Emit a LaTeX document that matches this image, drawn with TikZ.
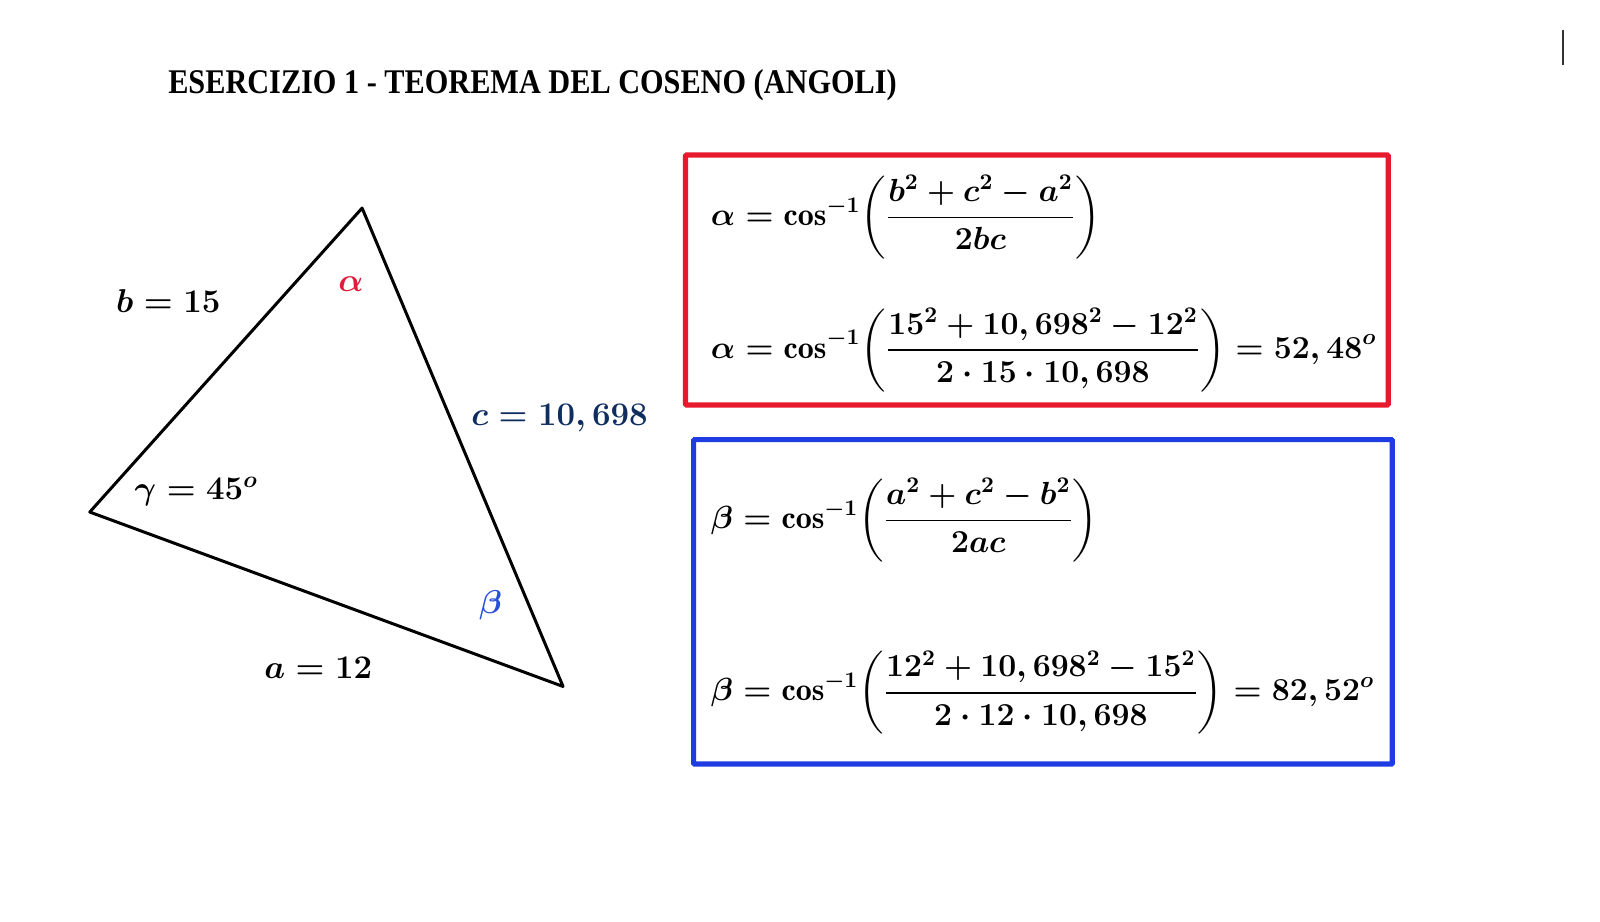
\RequirePackage{fix-cm}
\documentclass[tikz,border=0pt]{standalone}
\usepackage{amsmath}
\usepackage{fontspec}
\usepackage{tikz}
\usetikzlibrary{positioning}

\newfontfamily\titlefont{Liberation Serif}

\definecolor{boxred}{RGB}{230,25,45}
\definecolor{boxblue}{RGB}{30,60,225}
\definecolor{alphared}{RGB}{220,30,60}
\definecolor{betablue}{RGB}{40,80,220}
\definecolor{navy}{RGB}{15,45,95}

\tikzset{
  lbl/.style={font=\fontsize{16.5}{20}\selectfont\boldmath},
  formula/.style={anchor=west,font=\fontsize{16}{20}\selectfont\boldmath},
  frame/.style={line width=2.6pt,rounded corners=0.5pt}
}

\begin{document}
\begin{tikzpicture}[x=0.51pt,y=-0.51pt,inner sep=0,outer sep=0]

   \useasboundingbox (0,0) rectangle (1568.6,903);

   % Title
   \node[anchor=base west,font=\fontsize{17.3}{20}\titlefont\bfseries] (title) at (165,92)
      {\scalebox{0.875}[1]{ESERCIZIO 1 - TEOREMA DEL COSENO (ANGOLI)}};

   % Cursor mark
   \draw[black!80,line width=1pt] (1532,29) -- (1532,64);

   % The triangle
   \coordinate (A) at (355,204);
   \coordinate (C) at (88,502);
   \coordinate (B) at (552,673);
   \draw[line width=1.5pt,line join=round] (C) -- (A) -- (B) -- cycle;

   % Sides and angles
   \node[lbl] (sideb) at (165,295) {$b=15$};
   \node[lbl,text=alphared] (angA) at (344,279) {$\alpha$};
   \node[lbl,text=navy,anchor=west] (sidec) at (462,410) {$c=10,698$};
   \node[lbl,anchor=west] (angC) at (132,482) {$\gamma=45^{o}$};
   \node[lbl,text=betablue] (angB) at (481,593) {$\beta$};
   \node[lbl] (sidea) at (312,655) {$a=12$};

   % Boxes
   \draw[frame,boxred] (672,152) rectangle (1361,397);
   \draw[frame,boxblue] (680,431) rectangle (1365,749);

   % Formulas for alpha
   \node[formula] (alf) at (697,213)
      {$\displaystyle\alpha=\cos^{-1}\!\left(\frac{b^2+c^2-a^2}{2bc}\right)$};
   \node[formula] (alv) at (697,343)
      {$\displaystyle\alpha=\cos^{-1}\!\left(\frac{15^2+10,698^2-12^2}{2\cdot15\cdot10,698}\right)=52,48^{o}$};

   % Formulas for beta
   \node[formula] (bef) at (697,510)
      {$\displaystyle\beta=\cos^{-1}\!\left(\frac{a^2+c^2-b^2}{2ac}\right)$};
   \node[formula] (bev) at (697,679)
      {$\displaystyle\beta=\cos^{-1}\!\left(\frac{12^2+10,698^2-15^2}{2\cdot12\cdot10,698}\right)=82,52^{o}$};

\end{tikzpicture}
\end{document}
